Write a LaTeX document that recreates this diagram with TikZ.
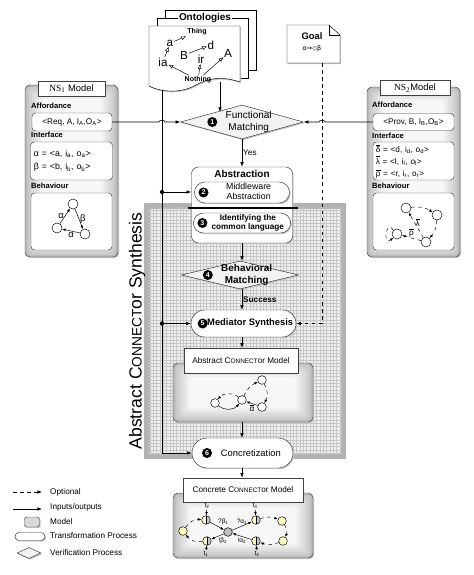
\documentclass[tikz,border=0pt]{standalone}
\usepackage{fontspec}
\setmainfont{Liberation Sans}
\newfontfamily\nsfont{Liberation Serif}
\newfontfamily\djvfont{DejaVu Sans}
\usetikzlibrary{positioning,arrows.meta,shapes.geometric,shapes.misc}
\newcommand{\cnct}[1]{C{\fontsize{#1}{#1}\selectfont ONNECT}or}
\newcommand{\ovl}[1]{$\overline{\hbox{#1}}$}
\newcommand{\twol}[2]{\begin{tabular}{@{}c@{}}#1\\#2\end{tabular}}
\tikzset{
    flow/.style={-{Latex[length=4pt,width=3pt]}, line width=0.5pt},
    opt/.style={flow, dashed},
    edg/.style={-{Latex[length=3pt,width=2.2pt]}, line width=0.4pt},
    onto/.style={-{Triangle[open,length=4pt,width=3pt]}, line width=0.4pt},
    shad/.style={preaction={draw=none, fill=black!22, transform canvas={shift={(1pt,-1pt)}}}},
    glow/.style={path picture={\foreach \i in {1,...,7} {\fill[gray!\the\numexpr48-6*\i\relax, rounded corners=3pt]
        ([shift={(\i*0.7mm,-\i*0.6mm)}]path picture bounding box.north west) rectangle ([shift={(-\i*0.7mm,\i*0.6mm)}]path picture bounding box.south east);}}},
    modelbox/.style={draw=black!75, rounded corners=4pt, inner sep=0pt, fill=gray!55, glow, shad},
    tab/.style={draw=black!75, fill=white, inner sep=0pt, font=\fontsize{7}{8}\selectfont},
    inbox/.style={draw=black!75, fill=white, rounded corners=3pt, inner sep=0pt},
    proc/.style={rounded rectangle, draw=black!80, fill=white, inner sep=0pt, shad},
    check/.style={diamond, draw=black!80, fill=gray!10, inner sep=0pt, shad},
    num/.style={circle, fill=black, text=white, inner sep=0pt, minimum size=3mm, font=\fontsize{6}{6}\selectfont\bfseries},
    sect/.style={font=\fontsize{6.5}{7}\selectfont\bfseries, anchor=west, inner sep=0pt},
    st/.style={circle, draw, fill=white, inner sep=0pt, minimum size=3mm},
    sst/.style={circle, draw, fill=white, inner sep=0pt, minimum size=2.6mm},
    ystate/.style={circle, draw, fill=yellow!25, inner sep=0pt, minimum size=2.6mm},
    gstate/.style={circle, draw, fill=gray!50, inner sep=0pt, minimum size=2.6mm},
    halfst/.style={circle, draw, fill=yellow!25, inner sep=0pt, minimum size=2.6mm,
        path picture={\fill[gray!45] (path picture bounding box.north) rectangle (path picture bounding box.south east);
                      \draw (path picture bounding box.north) -- (path picture bounding box.south);}},
    lbl/.style={font=\fontsize{5.5}{6}\selectfont, inner sep=0.8pt},
    glbl/.style={font=\fontsize{7}{8}\selectfont, inner sep=0.8pt},
    legtxt/.style={font=\fontsize{7}{8}\selectfont, anchor=west, inner sep=0pt},
    synth/.style={draw=gray!60, line width=1.2mm, inner sep=0pt, fill=gray!12, shad}
}
\begin{document}
\begin{tikzpicture}[x=0.3mm, y=-0.3mm]
    \useasboundingbox (0,0) rectangle (474,575);

    \node[synth, minimum width=58.2mm, minimum height=74.4mm] (synth) at (245,331) {};
    \draw[gray!45, line width=0.3pt, step=1mm] ([shift={(0.6mm,-0.6mm)}]synth.north west) grid ([shift={(-0.6mm,0.6mm)}]synth.south east);
    \draw[gray!60, line width=1.2mm] (synth.north west) rectangle (synth.south east);
    \node[rotate=90, font=\fontsize{15}{15}\selectfont] (synthtxt) at (137,331) {Abstract \cnct{11.7} Synthesis};

    \draw[fill=white, shad] (165,10) rectangle (256,70);
    \draw[fill=white, shad] (157,18) rectangle (248,78);
    \draw[fill=white, shad] (149,26) -- (240,26) -- (240,82) .. controls (222,76) and (208,78) .. (196,85) .. controls (182,93) and (163,93) .. (149,86) -- cycle;
    \node[fill=white, inner sep=1pt, font=\fontsize{8.5}{9}\selectfont\bfseries] (onto) at (205,18) {Ontologies};
    \node[font=\fontsize{6}{6}\selectfont\bfseries, inner sep=1pt] (thing) at (197,32) {Thing};
    \node[font=\fontsize{10}{10}\selectfont, inner sep=0.5pt] (oa) at (170,43) {a};
    \node[font=\fontsize{10}{10}\selectfont, inner sep=0.5pt] (oia) at (163,62) {ia};
    \node[font=\fontsize{10}{10}\selectfont, inner sep=0.5pt] (oB) at (184,55) {B};
    \node[font=\fontsize{10}{10}\selectfont, inner sep=0.5pt] (od) at (211,45) {d};
    \node[font=\fontsize{10}{10}\selectfont, inner sep=0.5pt] (oir) at (201,59) {ir};
    \node[font=\fontsize{10}{10}\selectfont, inner sep=0.5pt] (oA) at (228,53) {A};
    \node[font=\fontsize{6}{6}\selectfont\bfseries, inner sep=1pt] (nothing) at (198,80) {Nothing};
    \draw[onto] (oia) -- (oa);
    \draw[onto] (oa) -- (thing);
    \draw[onto] (oB) -- (od);
    \draw[onto] (nothing) -- (oia);
    \draw[onto] (nothing) -- (oir);
    \draw[onto] (nothing) -- (oA);

    \draw[fill=white, shad] (287,25) -- (329,25) -- (340,35) -- (340,63) -- (287,63) -- cycle;
    \draw (329,25) -- (329,35) -- (340,35);
    \node[font=\fontsize{8}{8}\selectfont\bfseries] (goal) at (312,36) {Goal};
    \node[font=\djvfont\fontsize{5.5}{6}\selectfont] (goalf) at (312,49) {α⇒◇β};

    \node[modelbox, minimum width=27.9mm, minimum height=51.6mm] (ns1) at (71.5,171) {};
    \node[tab, font=\fontsize{8}{9}\selectfont, minimum width=20.1mm, minimum height=4.5mm] (ns1tab) at (71.5,88.5) {{\nsfont NS\textsubscript{1}} Model};
    \node[sect] (ns1afl) at (31,106) {Affordance};
    \node[inbox, minimum width=24mm, minimum height=5.4mm, font=\fontsize{7}{8}\selectfont] (ns1aff) at (72,122) {<Req, A, I\textsubscript{A},O\textsubscript{A}>};
    \node[sect] (ns1ifl) at (31,135) {Interface};
    \node[inbox, minimum width=24.6mm, minimum height=11.4mm, text width=22.6mm, align=left, font=\fontsize{7.5}{11}\selectfont] (ns1if) at (71.5,161) {α = <a, i\textsubscript{a}, o\textsubscript{a}>\\β = <b, i\textsubscript{b}, o\textsubscript{b}>};
    \node[sect] (ns1bl) at (31,186) {Behaviour};
    \node[inbox, minimum width=24.3mm, minimum height=17.1mm] (ns1bh) at (71.5,221.5) {};
    \node[st] (n1t) at (73,204) {};
    \node[st] (n1l) at (57,228) {};
    \node[st] (n1r) at (85,234) {};
    \draw[edg] (n1l) -- (n1t) node[midway, left, glbl, font=\fontsize{8}{8}\selectfont] {α};
    \draw[edg] (n1t) -- (n1r) node[midway, right, glbl, font=\fontsize{8}{8}\selectfont] {β};
    \draw[edg] (n1r) -- (n1l) node[midway, below, glbl, font=\fontsize{8}{8}\selectfont] {α};

    \node[modelbox, minimum width=27.9mm, minimum height=51mm] (ns2) at (413.5,172) {};
    \node[tab, font=\fontsize{8}{9}\selectfont, minimum width=21mm, minimum height=4.5mm] (ns2tab) at (415,88) {{\nsfont NS\textsubscript{2}}Model};
    \node[sect] (ns2afl) at (372,105) {Affordance};
    \node[inbox, minimum width=24.3mm, minimum height=5.1mm, font=\fontsize{7}{8}\selectfont] (ns2aff) at (413.5,122) {<Prov, B, I\textsubscript{B},O\textsubscript{B}>};
    \node[sect] (ns2ifl) at (372,136) {Interface};
    \node[inbox, minimum width=24.3mm, minimum height=11.4mm, text width=22.6mm, align=left, font=\fontsize{7}{10}\selectfont] (ns2if) at (413.5,161) {\ovl{δ} = <d, i\textsubscript{d}, o\textsubscript{d}>\\\ovl{λ} = <l, i\textsubscript{l}, o\textsubscript{l}>\\\ovl{ρ} = <r, i\textsubscript{r}, o\textsubscript{r}>};
    \node[sect] (ns2bl) at (372,186) {Behaviour};
    \node[inbox, minimum width=24.3mm, minimum height=17.1mm] (ns2bh) at (413.5,221.5) {};
    \node[st] (n2a) at (406,208) {};
    \node[st] (n2b) at (437,215) {};
    \node[st] (n2c) at (397,234) {};
    \node[st] (n2d) at (426,242) {};
    \draw[edg, dashed] (n2a) to[bend left=20] (n2b) node[midway, above, glbl] {\ovl{δ}};
    \draw[edg, dashed] (n2b) to[bend left=20] (n2d) node[midway, right, glbl] {\ovl{δ}};
    \draw[edg, dashed] (n2d) -- (n2a) node[pos=0.6, right, glbl] {\ovl{λ}};
    \draw[edg, dashed] (n2d) -- (n2c) node[midway, above, glbl] {\ovl{ρ}};
    \draw[edg, dashed] (n2c.north west) to[out=120, in=220, looseness=5] (n2c.south west) node[pos=0.2, above left, glbl] {\ovl{ρ}};

    \node[check, minimum width=36.9mm, minimum height=10.2mm] (fm) at (242,122) {};
    \node[font=\fontsize{8.5}{10}\selectfont, xshift=2mm] (fmtxt) at (fm) {\twol{Functional}{Matching}};
    \node[num, left=1.2mm of fmtxt] (fmno) {1};

    \node[draw=black!80, fill=white, rounded corners=6pt, minimum width=30.3mm, minimum height=22.8mm, shad] (absbox) at (242,205) {};
    \node[font=\fontsize{8.5}{9}\selectfont\bfseries] (abstitle) at (242,174) {Abstraction};
    \node[proc, minimum width=28.5mm, minimum height=6.3mm, font=\fontsize{7.5}{8.5}\selectfont] (mwa) at (242,192.5) {\hspace{4mm}\twol{Middleware}{Abstraction}};
    \node[num, right=1.2mm of mwa.west] (mwano) {2};
    \node[proc, minimum width=28.8mm, minimum height=6mm, font=\fontsize{7}{8}\selectfont\bfseries] (idl) at (242,223) {\hspace{3.5mm}\twol{Identifying the}{common language}};
    \node[num, right=1.2mm of idl.west] (idlno) {3};
    \coordinate (sepl) at (188,208);
    \coordinate (sepr) at (298,208);
    \draw[line width=0.8mm] (sepl) -- (sepr);

    \node[check, minimum width=35.1mm, minimum height=8.4mm] (bm) at (240,275) {};
    \node[font=\fontsize{8.5}{10}\selectfont\bfseries, xshift=2mm] (bmtxt) at (bm) {\twol{Behavioral}{Matching}};
    \node[num, left=1.2mm of bmtxt] (bmno) {4};

    \node[proc, minimum width=31.5mm, minimum height=8.1mm, font=\fontsize{8}{9}\selectfont\bfseries] (med) at (243.5,323.5) {\hspace{4mm}Mediator Synthesis};
    \node[num, right=2mm of med.west] (medno) {5};

    \node[modelbox, minimum width=42mm, minimum height=17.7mm] (amodel) at (243,392.5) {};
    \node[tab, minimum width=34.2mm, minimum height=7.5mm] (atab) at (241,360.5) {Abstract \cnct{5.5} Model};
    \node[sst] (al) at (215,403) {};
    \node[sst] (ac) at (242,400) {};
    \node[sst] (atr) at (262,380) {};
    \node[sst] (abr) at (262,407) {};
    \draw[edg, dashed] (ac) to[bend right=45] (al) node[midway, above, lbl, font=\fontsize{7}{7}\selectfont] {ρ};
    \draw[edg] (al) to[bend right=45] (ac) node[midway, below, lbl, font=\fontsize{7}{7}\selectfont] {\ovl{β}};
    \draw[edg, dashed] (ac) to[bend left=20] (atr) node[pos=0.15, above left, lbl, font=\fontsize{7}{7}\selectfont] {\ovl{δ}};
    \draw[edg, dashed] (atr) to[bend left=30] (abr) node[midway, right, lbl, font=\fontsize{7}{7}\selectfont] {λ};
    \draw[edg] (abr) -- (ac) node[midway, below, lbl, font=\fontsize{7}{7}\selectfont] {\ovl{α}};

    \node[proc, minimum width=30.3mm, minimum height=9mm, font=\fontsize{8}{9}\selectfont] (conc) at (242.5,453) {\hspace{5mm}Concretization};
    \node[num, right=3mm of conc.west] (concno) {6};

    \node[modelbox, minimum width=42mm, minimum height=19.5mm] (cmodel) at (243,525.5) {};
    \node[tab, minimum width=36mm, minimum height=7.2mm] (ctab) at (243,490) {Concrete \cnct{5.5} Model};
    \node[ystate] (k0) at (183,531) {};
    \node[gstate] (kc) at (228,532) {};
    \node[halfst] (k1) at (206,520) {};
    \node[halfst] (k2) at (207,541) {};
    \node[halfst] (k3) at (256,520) {};
    \node[halfst] (k4) at (256,541) {};
    \node[ystate] (k5) at (282,521) {};
    \node[ystate] (k6) at (283,541) {};
    \node[lbl] (t2) at (207,506) {t\textsubscript{2}};
    \node[lbl] (t1) at (206,554) {t\textsubscript{1}};
    \node[lbl] (t3) at (255,506) {t\textsubscript{3}};
    \node[lbl] (t4) at (257,554) {t\textsubscript{4}};
    \draw[edg] (t2) -- (k1);
    \draw[edg] (t1) -- (k2);
    \draw[edg] (t3) -- (k3);
    \draw[edg] (t4) -- (k4);
    \draw[edg, dashed] (k0) to[bend left=30] (k1) node[midway, above left, lbl] {!ρ\textsubscript{1}};
    \draw[edg, dashed] (k2) to[bend left=30] (k0) node[midway, below left, lbl] {?ρ\textsubscript{2}};
    \draw[edg] (k1) -- (kc) node[midway, above right, lbl] {?β\textsubscript{1}};
    \draw[edg] (kc) -- (k2) node[midway, below right, lbl] {!β\textsubscript{2}};
    \draw[edg] (kc) -- (k3) node[midway, above, lbl] {?α\textsubscript{1}};
    \draw[edg] (k4) -- (kc) node[midway, below, lbl] {!α\textsubscript{2}};
    \draw[edg, dashed] (k3) to[bend left=20] (k5) node[midway, above, lbl] {!δ\textsubscript{1}};
    \draw[edg, dashed] (k5) to[bend left=30] (k6) node[midway, right, lbl] {?δ\textsubscript{2}};
    \draw[edg, dashed] (k6) to[bend left=20] (k4) node[midway, above, lbl] {?λ\textsubscript{1}};

    \coordinate (ontoout) at (220,82);
    \coordinate (fmin) at (220,112);
    \coordinate (ontoleft) at (162,90);
    \coordinate (j1) at (162,192);
    \coordinate (j2) at (162,323.5);
    \coordinate (j3) at (162,453);
    \coordinate (hop1a) at (159,122);
    \coordinate (hop1b) at (165,122);
    \coordinate (hop2a) at (325,122);
    \coordinate (hop2b) at (319,122);
    \coordinate (goalout) at (322,63);
    \coordinate (gturn) at (322,323.5);

    \draw[flow] (ontoout) -- (fmin);
    \draw[flow] (ns1aff.east) -- (hop1a) to[out=90, in=90] (hop1b) -- (fm.west);
    \draw[flow] (ns2aff.west) -- (hop2a) to[out=90, in=90] (hop2b) -- (fm.east);
    \draw[opt] (goalout) -- (gturn) -- (med.east);
    \draw[flow] (ontoleft) -- (j3) -- (conc.west);
    \draw[flow] (j1) -- (j1 -| absbox.west);
    \draw[flow] (j2) -- (med.west);
    \fill (j1) circle[radius=1.8pt];
    \fill (j2) circle[radius=1.8pt];
    \draw[flow] (fm.south) -- (fm.south |- absbox.north) node[midway, right, glbl] {Yes};
    \draw[flow] (absbox.south) -- (absbox.south |- bm.north);
    \draw[flow] (absbox.south |- bm.south) -- (absbox.south |- med.north) node[midway, right, glbl, font=\fontsize{7}{8}\selectfont\bfseries] {Success};
    \draw[flow] (absbox.south |- med.south) -- (absbox.south |- atab.north);
    \draw[flow] (absbox.south |- amodel.south) -- (absbox.south |- conc.north);
    \draw[flow] (absbox.south |- conc.south) -- (absbox.south |- ctab.north);

    \coordinate (lg1a) at (13,492);
    \coordinate (lg1b) at (42,492);
    \coordinate (lg2a) at (13,509);
    \coordinate (lg2b) at (42,509);
    \draw[opt] (lg1a) -- (lg1b);
    \node[legtxt] (lgopt) at (50,492) {Optional};
    \draw[flow] (lg2a) -- (lg2b);
    \node[legtxt] (lgio) at (50,507) {Inputs/outputs};
    \node[draw=black!75, rounded corners=2pt, fill=gray!30, minimum width=4.5mm, minimum height=3mm, shad] (lgm) at (32,522) {};
    \node[legtxt] (lgmt) at (50,522) {Model};
    \node[proc, minimum width=9mm, minimum height=2.4mm] (lgt) at (30,536.5) {};
    \node[legtxt] (lgtt) at (50,536) {Transformation Process};
    \node[check, minimum width=7.2mm, minimum height=3.3mm] (lgv) at (29,553) {};
    \node[legtxt] (lgvt) at (50,553) {Verification Process};

    \fill[white] (0,0) rectangle (14,12);
\end{tikzpicture}
\end{document}
